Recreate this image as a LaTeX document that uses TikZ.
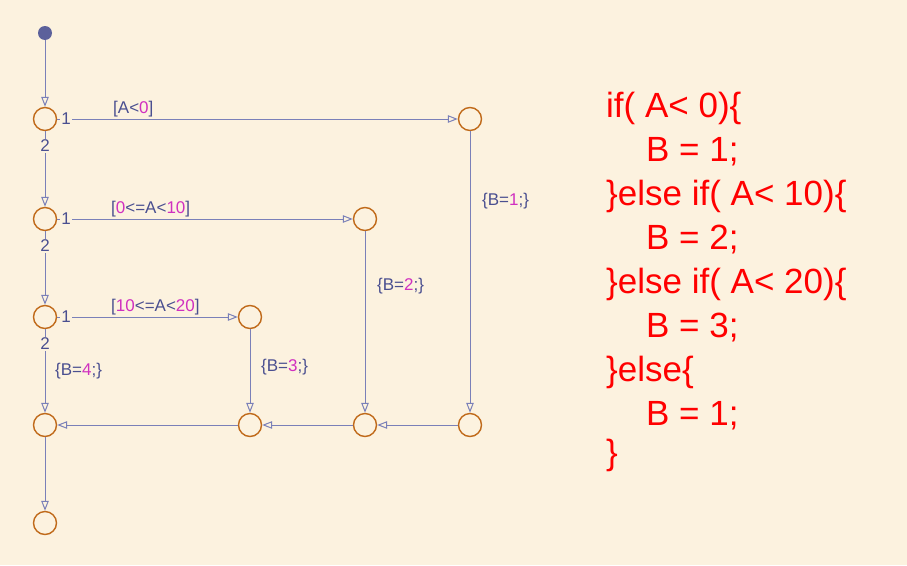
\documentclass[tikz,border=0pt]{standalone}
\usepackage{fontspec}
\setmainfont{Liberation Sans}
\usetikzlibrary{arrows.meta}
\definecolor{bg}{HTML}{FCF2DF}
\definecolor{ln}{HTML}{7A80B8}
\definecolor{tx}{HTML}{4A4F90}
\definecolor{mg}{HTML}{D030C0}
\definecolor{jc}{HTML}{C06A1A}
\tikzset{
 jn/.style={circle,draw=jc,line width=1.4pt,minimum size=23pt,inner sep=0pt},
 tr/.style={draw=ln,line width=1pt,-{Triangle[open,length=10pt,width=7.5pt]}},
 lab/.style={text=tx,font=\fontsize{17}{19}\selectfont,inner sep=1pt},
 num/.style={lab,fill=bg},
 code/.style={text=red,font=\fontsize{35}{40}\selectfont,anchor=west,inner sep=0pt}
}
\begin{document}
\begin{tikzpicture}[x=1pt,y=-1pt]
\fill[bg] (0,0) rectangle (907,565);
\node[circle,fill=tx!90,inner sep=0pt,minimum size=14pt] (s) at (45,33) {};
\node[jn] (j1) at (45,119) {};
\node[jn] (j1r) at (470,119) {};
\node[jn] (j2) at (45,219) {};
\node[jn] (j2r) at (365,219) {};
\node[jn] (j3) at (45,317) {};
\node[jn] (j3r) at (250,317) {};
\node[jn] (b0) at (45,425) {};
\node[jn] (b1) at (250,425) {};
\node[jn] (b2) at (365,425) {};
\node[jn] (b3) at (470,425) {};
\node[jn] (e) at (45,523) {};
\draw[tr] (s) -- (j1);
\draw[tr] (j1) -- (j2);
\draw[tr] (j2) -- (j3);
\draw[tr] (j3) -- (b0);
\draw[tr] (b0) -- (e);
\draw[tr] (j1) -- (j1r);
\draw[tr] (j2) -- (j2r);
\draw[tr] (j3) -- (j3r);
\draw[tr] (j1r) -- (b3);
\draw[tr] (j2r) -- (b2);
\draw[tr] (j3r) -- (b1);
\draw[tr] (b3) -- (b2);
\draw[tr] (b2) -- (b1);
\draw[tr] (b1) -- (b0);
\foreach \n/\y in {a/119,b/219,c/317}{
 \node[num] (one\n) at (66,\y) {1};
 \node[num] (two\n) at (45,\y+27) {2};
}
\node[lab,anchor=south west] (l1) at (112,118) {[A<\textcolor{mg}{0}]};
\node[lab,anchor=south west] (l2) at (110,218) {[\textcolor{mg}{0}<=A<\textcolor{mg}{10}]};
\node[lab,anchor=south west] (l3) at (110,316) {[\textcolor{mg}{10}<=A<\textcolor{mg}{20}]};
\node[lab,anchor=west] (a1) at (481,201) {\{B=\textcolor{mg}{1};\}};
\node[lab,anchor=west] (a2) at (376,286) {\{B=\textcolor{mg}{2};\}};
\node[lab,anchor=west] (a3) at (260,367) {\{B=\textcolor{mg}{3};\}};
\node[lab,anchor=west] (a4) at (54,371) {\{B=\textcolor{mg}{4};\}};
\node[code] (c1) at (606,108) {if( A< 0)\{};
\node[code] (c2) at (646,152) {B = 1;};
\node[code] (c3) at (606,196) {\}else if( A< 10)\{};
\node[code] (c4) at (646,240) {B = 2;};
\node[code] (c5) at (606,284) {\}else if( A< 20)\{};
\node[code] (c6) at (646,328) {B = 3;};
\node[code] (c7) at (606,372) {\}else\{};
\node[code] (c8) at (646,416) {B = 1;};
\node[code] (c9) at (606,455) {\}};
\end{tikzpicture}
\end{document}
